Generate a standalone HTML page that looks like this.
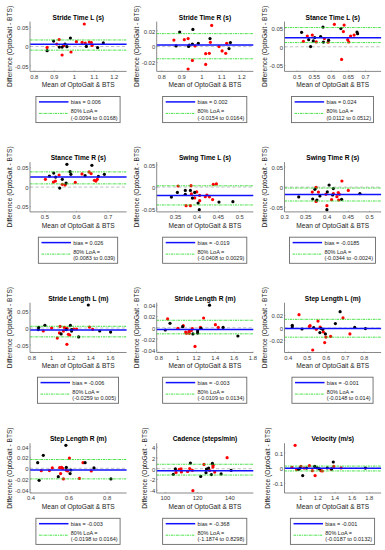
<!DOCTYPE html>
<html><head><meta charset="utf-8"><style>
html,body{margin:0;padding:0;background:#fff;width:385px;height:550px;overflow:hidden}
svg{display:block}
text{font-family:"Liberation Sans",sans-serif}
.t{font-size:5.9px;fill:#3a3a3a}
.l{font-size:6.6px;fill:#222}
.ti{font-size:6.6px;font-weight:bold;fill:#000}
.lt{font-size:5.5px;fill:#222}
.ax{fill:none;stroke:#7c7c7c;stroke-width:0.9}
.tk{stroke:#7c7c7c;stroke-width:0.6}
.z{stroke:#b0b0b0;stroke-width:0.8;stroke-dasharray:3.2 2.2}
.g{stroke:#22dd22;stroke-width:0.85;stroke-dasharray:2.6 0.8 1 0.8}
.b{stroke:#1010ff;stroke-width:1.5}
.dr{fill:#ff0000}
.dk{fill:#000}
.lg{fill:#fff;stroke:#6a6a6a;stroke-width:0.9}
</style></head><body>
<svg width="385" height="550" viewBox="0 0 385 550">
<line x1="30" y1="46.5" x2="126.6" y2="46.5" class="z"/>
<circle cx="47.1" cy="47.4" r="1.6" class="dr"/>
<circle cx="59.1" cy="39.6" r="1.6" class="dr"/>
<circle cx="56.8" cy="44.1" r="1.6" class="dr"/>
<circle cx="63.6" cy="45.7" r="1.6" class="dr"/>
<circle cx="62.1" cy="55" r="1.6" class="dr"/>
<circle cx="71" cy="52" r="1.6" class="dr"/>
<circle cx="76.4" cy="41.7" r="1.6" class="dr"/>
<circle cx="82.1" cy="42.4" r="1.6" class="dr"/>
<circle cx="84.3" cy="24" r="1.6" class="dr"/>
<circle cx="85.3" cy="43.1" r="1.6" class="dr"/>
<circle cx="89.3" cy="42.1" r="1.6" class="dr"/>
<circle cx="91.4" cy="42.6" r="1.6" class="dr"/>
<circle cx="92.1" cy="45.4" r="1.6" class="dr"/>
<circle cx="47.1" cy="50.7" r="1.6" class="dk"/>
<circle cx="53.6" cy="41.1" r="1.6" class="dk"/>
<circle cx="59.3" cy="47.1" r="1.6" class="dk"/>
<circle cx="62.1" cy="47.1" r="1.6" class="dk"/>
<circle cx="65" cy="44" r="1.6" class="dk"/>
<circle cx="66.9" cy="46.7" r="1.6" class="dk"/>
<circle cx="70.4" cy="38.1" r="1.6" class="dk"/>
<circle cx="86.4" cy="46.4" r="1.6" class="dk"/>
<circle cx="97.6" cy="47.6" r="1.6" class="dk"/>
<circle cx="103.3" cy="42.9" r="1.6" class="dk"/>
<line x1="30" y1="39.98" x2="126.6" y2="39.98" class="g"/>
<line x1="30" y1="50.15" x2="126.6" y2="50.15" class="g"/>
<line x1="30" y1="44.17" x2="126.6" y2="44.17" class="b"/>
<path d="M30 21.6V71.4H126.6" class="ax"/>
<line x1="30" y1="27.1" x2="31" y2="27.1" class="tk"/>
<text x="28.5" y="29.9" class="t" text-anchor="end">0.05</text>
<line x1="30" y1="46.5" x2="31" y2="46.5" class="tk"/>
<text x="28.5" y="49.3" class="t" text-anchor="end">0</text>
<line x1="30" y1="65.9" x2="31" y2="65.9" class="tk"/>
<text x="28.5" y="68.7" class="t" text-anchor="end">-0.05</text>
<line x1="34.3" y1="71.4" x2="34.3" y2="70.4" class="tk"/>
<text x="34.3" y="78.5" class="t" text-anchor="middle">0.8</text>
<line x1="54.3" y1="71.4" x2="54.3" y2="70.4" class="tk"/>
<text x="54.3" y="78.5" class="t" text-anchor="middle">0.9</text>
<line x1="74.3" y1="71.4" x2="74.3" y2="70.4" class="tk"/>
<text x="74.3" y="78.5" class="t" text-anchor="middle">1</text>
<line x1="94.3" y1="71.4" x2="94.3" y2="70.4" class="tk"/>
<text x="94.3" y="78.5" class="t" text-anchor="middle">1.1</text>
<line x1="114.3" y1="71.4" x2="114.3" y2="70.4" class="tk"/>
<text x="114.3" y="78.5" class="t" text-anchor="middle">1.2</text>
<text x="78.3" y="19.7" class="ti" text-anchor="middle">Stride Time L (s)</text>
<text x="78.3" y="87" class="l" text-anchor="middle">Mean of OptoGait &amp; BTS</text>
<text transform="translate(12.45 46.5) rotate(-90)" class="l" text-anchor="middle">Difference (OptoGait - BTS)</text>
<rect x="35.91" y="96.5" width="84.18" height="26.1" class="lg"/>
<line x1="39.01" y1="101.9" x2="68.51" y2="101.9" class="b"/>
<line x1="39.01" y1="113.4" x2="68.51" y2="113.4" class="g"/>
<text x="70.81" y="104.2" class="lt">bias = 0.006</text>
<text x="70.81" y="112.9" class="lt">80% LoA =</text>
<text x="70.81" y="119.5" class="lt">(-0.0094 to 0.0168)</text>
<line x1="156.7" y1="46.6" x2="253.3" y2="46.6" class="z"/>
<circle cx="173.9" cy="40.1" r="1.6" class="dr"/>
<circle cx="184.3" cy="39.7" r="1.6" class="dr"/>
<circle cx="188.1" cy="38.6" r="1.6" class="dr"/>
<circle cx="192.4" cy="60.4" r="1.6" class="dr"/>
<circle cx="188.1" cy="69" r="1.6" class="dr"/>
<circle cx="195" cy="45.9" r="1.6" class="dr"/>
<circle cx="205.7" cy="53.7" r="1.6" class="dr"/>
<circle cx="209.3" cy="53.3" r="1.6" class="dr"/>
<circle cx="205.7" cy="64.4" r="1.6" class="dr"/>
<circle cx="210.4" cy="42.3" r="1.6" class="dr"/>
<circle cx="211.7" cy="25.4" r="1.6" class="dr"/>
<circle cx="219" cy="46.6" r="1.6" class="dr"/>
<circle cx="222.1" cy="50.9" r="1.6" class="dr"/>
<circle cx="225.7" cy="53.3" r="1.6" class="dr"/>
<circle cx="226.7" cy="43.3" r="1.6" class="dr"/>
<circle cx="176.1" cy="45.9" r="1.6" class="dk"/>
<circle cx="179.7" cy="32.1" r="1.6" class="dk"/>
<circle cx="188.6" cy="46.4" r="1.6" class="dk"/>
<circle cx="189.3" cy="45" r="1.6" class="dk"/>
<circle cx="192.4" cy="44" r="1.6" class="dk"/>
<circle cx="192.9" cy="29.4" r="1.6" class="dk"/>
<circle cx="198.3" cy="43.3" r="1.6" class="dk"/>
<circle cx="210" cy="38.6" r="1.6" class="dk"/>
<circle cx="230.4" cy="42.6" r="1.6" class="dk"/>
<circle cx="229" cy="48.6" r="1.6" class="dk"/>
<line x1="156.7" y1="33.64" x2="253.3" y2="33.64" class="g"/>
<line x1="156.7" y1="58.77" x2="253.3" y2="58.77" class="g"/>
<line x1="156.7" y1="45.02" x2="253.3" y2="45.02" class="b"/>
<path d="M156.7 21.6V71.4H253.3" class="ax"/>
<line x1="156.7" y1="30.8" x2="157.7" y2="30.8" class="tk"/>
<text x="155.2" y="33.6" class="t" text-anchor="end">0.02</text>
<line x1="156.7" y1="46.6" x2="157.7" y2="46.6" class="tk"/>
<text x="155.2" y="49.4" class="t" text-anchor="end">0</text>
<line x1="156.7" y1="62.4" x2="157.7" y2="62.4" class="tk"/>
<text x="155.2" y="65.2" class="t" text-anchor="end">-0.02</text>
<line x1="161.8" y1="71.4" x2="161.8" y2="70.4" class="tk"/>
<text x="161.8" y="78.5" class="t" text-anchor="middle">0.8</text>
<line x1="181.8" y1="71.4" x2="181.8" y2="70.4" class="tk"/>
<text x="181.8" y="78.5" class="t" text-anchor="middle">0.9</text>
<line x1="201.8" y1="71.4" x2="201.8" y2="70.4" class="tk"/>
<text x="201.8" y="78.5" class="t" text-anchor="middle">1</text>
<line x1="221.8" y1="71.4" x2="221.8" y2="70.4" class="tk"/>
<text x="221.8" y="78.5" class="t" text-anchor="middle">1.1</text>
<line x1="241.8" y1="71.4" x2="241.8" y2="70.4" class="tk"/>
<text x="241.8" y="78.5" class="t" text-anchor="middle">1.2</text>
<text x="205" y="19.7" class="ti" text-anchor="middle">Stride Time R (s)</text>
<text x="205" y="87" class="l" text-anchor="middle">Mean of OptoGait &amp; BTS</text>
<text transform="translate(139.15 46.5) rotate(-90)" class="l" text-anchor="middle">Difference (OptoGait - BTS)</text>
<rect x="162.61" y="96.5" width="84.18" height="26.1" class="lg"/>
<line x1="165.71" y1="101.9" x2="195.21" y2="101.9" class="b"/>
<line x1="165.71" y1="113.4" x2="195.21" y2="113.4" class="g"/>
<text x="197.51" y="104.2" class="lt">bias = 0.002</text>
<text x="197.51" y="112.9" class="lt">80% LoA =</text>
<text x="197.51" y="119.5" class="lt">(-0.0154 to 0.0164)</text>
<line x1="284.5" y1="46.8" x2="381.1" y2="46.8" class="z"/>
<circle cx="303.4" cy="41.4" r="1.6" class="dr"/>
<circle cx="307.3" cy="36.1" r="1.6" class="dr"/>
<circle cx="312.3" cy="35.1" r="1.6" class="dr"/>
<circle cx="316.3" cy="41.9" r="1.6" class="dr"/>
<circle cx="324.4" cy="38.6" r="1.6" class="dr"/>
<circle cx="328.1" cy="42.2" r="1.6" class="dr"/>
<circle cx="334.4" cy="24.3" r="1.6" class="dr"/>
<circle cx="344.1" cy="25.1" r="1.6" class="dr"/>
<circle cx="343.4" cy="31.6" r="1.6" class="dr"/>
<circle cx="341.6" cy="59.4" r="1.6" class="dr"/>
<circle cx="347.7" cy="39.7" r="1.6" class="dr"/>
<circle cx="348.7" cy="41.9" r="1.6" class="dr"/>
<circle cx="350.6" cy="36.1" r="1.6" class="dr"/>
<circle cx="354.1" cy="35.1" r="1.6" class="dr"/>
<circle cx="301.6" cy="32.3" r="1.6" class="dk"/>
<circle cx="308.7" cy="39.7" r="1.6" class="dk"/>
<circle cx="310.6" cy="46.6" r="1.6" class="dk"/>
<circle cx="313.3" cy="40.9" r="1.6" class="dk"/>
<circle cx="314.7" cy="37.6" r="1.6" class="dk"/>
<circle cx="320.6" cy="36.5" r="1.6" class="dk"/>
<circle cx="323" cy="27.1" r="1.6" class="dk"/>
<circle cx="323.4" cy="42.1" r="1.6" class="dk"/>
<circle cx="328.6" cy="40.2" r="1.6" class="dk"/>
<circle cx="340.9" cy="28.6" r="1.6" class="dk"/>
<circle cx="357" cy="32.1" r="1.6" class="dk"/>
<circle cx="357.6" cy="33.7" r="1.6" class="dk"/>
<line x1="284.5" y1="27.55" x2="381.1" y2="27.55" class="g"/>
<line x1="284.5" y1="42.59" x2="381.1" y2="42.59" class="g"/>
<line x1="284.5" y1="37.78" x2="381.1" y2="37.78" class="b"/>
<path d="M284.5 21.6V71.4H381.1" class="ax"/>
<line x1="284.5" y1="28" x2="285.5" y2="28" class="tk"/>
<text x="283" y="30.8" class="t" text-anchor="end">0.05</text>
<line x1="284.5" y1="46.8" x2="285.5" y2="46.8" class="tk"/>
<text x="283" y="49.6" class="t" text-anchor="end">0</text>
<line x1="284.5" y1="65.6" x2="285.5" y2="65.6" class="tk"/>
<text x="283" y="68.4" class="t" text-anchor="end">-0.05</text>
<line x1="297.1" y1="71.4" x2="297.1" y2="70.4" class="tk"/>
<text x="297.1" y="78.5" class="t" text-anchor="middle">0.5</text>
<line x1="314.2" y1="71.4" x2="314.2" y2="70.4" class="tk"/>
<text x="314.2" y="78.5" class="t" text-anchor="middle">0.55</text>
<line x1="331.3" y1="71.4" x2="331.3" y2="70.4" class="tk"/>
<text x="331.3" y="78.5" class="t" text-anchor="middle">0.6</text>
<line x1="348.4" y1="71.4" x2="348.4" y2="70.4" class="tk"/>
<text x="348.4" y="78.5" class="t" text-anchor="middle">0.65</text>
<line x1="365.5" y1="71.4" x2="365.5" y2="70.4" class="tk"/>
<text x="365.5" y="78.5" class="t" text-anchor="middle">0.7</text>
<text x="332.8" y="19.7" class="ti" text-anchor="middle">Stance Time L (s)</text>
<text x="332.8" y="87" class="l" text-anchor="middle">Mean of OptoGait &amp; BTS</text>
<text transform="translate(266.95 46.5) rotate(-90)" class="l" text-anchor="middle">Difference (OptoGait - BTS)</text>
<rect x="291.53" y="96.5" width="81.94" height="26.1" class="lg"/>
<line x1="294.63" y1="101.9" x2="324.13" y2="101.9" class="b"/>
<line x1="294.63" y1="113.4" x2="324.13" y2="113.4" class="g"/>
<text x="326.43" y="104.2" class="lt">bias = 0.024</text>
<text x="326.43" y="112.9" class="lt">80% LoA =</text>
<text x="326.43" y="119.5" class="lt">(0.0112 to 0.0512)</text>
<line x1="30" y1="187.1" x2="126.6" y2="187.1" class="z"/>
<circle cx="45.4" cy="179.3" r="1.6" class="dr"/>
<circle cx="53.4" cy="182.1" r="1.6" class="dr"/>
<circle cx="55.4" cy="181.1" r="1.6" class="dr"/>
<circle cx="59.1" cy="175" r="1.6" class="dr"/>
<circle cx="62.3" cy="184.3" r="1.6" class="dr"/>
<circle cx="65.1" cy="185" r="1.6" class="dr"/>
<circle cx="75.3" cy="182.4" r="1.6" class="dr"/>
<circle cx="82" cy="173.9" r="1.6" class="dr"/>
<circle cx="89.1" cy="171.9" r="1.6" class="dr"/>
<circle cx="91.1" cy="173.6" r="1.6" class="dr"/>
<circle cx="94.4" cy="180.3" r="1.6" class="dr"/>
<circle cx="95.9" cy="181.1" r="1.6" class="dr"/>
<circle cx="97.3" cy="179.3" r="1.6" class="dr"/>
<circle cx="49.4" cy="176.1" r="1.6" class="dk"/>
<circle cx="53.7" cy="173.1" r="1.6" class="dk"/>
<circle cx="55.6" cy="177.1" r="1.6" class="dk"/>
<circle cx="59.7" cy="188.1" r="1.6" class="dk"/>
<circle cx="62.3" cy="179.3" r="1.6" class="dk"/>
<circle cx="66.1" cy="183.1" r="1.6" class="dk"/>
<circle cx="66.9" cy="164.3" r="1.6" class="dk"/>
<circle cx="70.1" cy="171.7" r="1.6" class="dk"/>
<circle cx="70.9" cy="174.3" r="1.6" class="dk"/>
<circle cx="85.1" cy="175.7" r="1.6" class="dk"/>
<circle cx="91.9" cy="165.3" r="1.6" class="dk"/>
<circle cx="98.4" cy="176.4" r="1.6" class="dk"/>
<circle cx="104.4" cy="174.3" r="1.6" class="dk"/>
<line x1="30" y1="171.89" x2="126.6" y2="171.89" class="g"/>
<line x1="30" y1="183.86" x2="126.6" y2="183.86" class="g"/>
<line x1="30" y1="176.96" x2="126.6" y2="176.96" class="b"/>
<path d="M30 162.1V211.9H126.6" class="ax"/>
<line x1="30" y1="167.6" x2="31" y2="167.6" class="tk"/>
<text x="28.5" y="170.4" class="t" text-anchor="end">0.05</text>
<line x1="30" y1="187.1" x2="31" y2="187.1" class="tk"/>
<text x="28.5" y="189.9" class="t" text-anchor="end">0</text>
<line x1="30" y1="206.6" x2="31" y2="206.6" class="tk"/>
<text x="28.5" y="209.4" class="t" text-anchor="end">-0.05</text>
<line x1="44.9" y1="211.9" x2="44.9" y2="210.9" class="tk"/>
<text x="44.9" y="219" class="t" text-anchor="middle">0.5</text>
<line x1="76.55" y1="211.9" x2="76.55" y2="210.9" class="tk"/>
<text x="76.55" y="219" class="t" text-anchor="middle">0.6</text>
<line x1="108.2" y1="211.9" x2="108.2" y2="210.9" class="tk"/>
<text x="108.2" y="219" class="t" text-anchor="middle">0.7</text>
<text x="78.3" y="160.2" class="ti" text-anchor="middle">Stance Time R (s)</text>
<text x="78.3" y="227.5" class="l" text-anchor="middle">Mean of OptoGait &amp; BTS</text>
<text transform="translate(12.45 187) rotate(-90)" class="l" text-anchor="middle">Difference (OptoGait - BTS)</text>
<rect x="38.36" y="237.2" width="79.29" height="26.1" class="lg"/>
<line x1="41.46" y1="242.6" x2="70.96" y2="242.6" class="b"/>
<line x1="41.46" y1="254.1" x2="70.96" y2="254.1" class="g"/>
<text x="73.26" y="244.9" class="lt">bias = 0.026</text>
<text x="73.26" y="253.6" class="lt">80% LoA =</text>
<text x="73.26" y="260.2" class="lt">(0.0083 to 0.039)</text>
<line x1="156.7" y1="187.05" x2="253.3" y2="187.05" class="z"/>
<circle cx="178.1" cy="186" r="1.6" class="dr"/>
<circle cx="186.1" cy="205.7" r="1.6" class="dr"/>
<circle cx="191" cy="185.7" r="1.6" class="dr"/>
<circle cx="191.4" cy="193.9" r="1.6" class="dr"/>
<circle cx="190.4" cy="205.7" r="1.6" class="dr"/>
<circle cx="194.7" cy="197.9" r="1.6" class="dr"/>
<circle cx="196.7" cy="191.9" r="1.6" class="dr"/>
<circle cx="199.6" cy="195.4" r="1.6" class="dr"/>
<circle cx="199.7" cy="200.7" r="1.6" class="dr"/>
<circle cx="205.3" cy="196.7" r="1.6" class="dr"/>
<circle cx="206.9" cy="195" r="1.6" class="dr"/>
<circle cx="209.4" cy="196.8" r="1.6" class="dr"/>
<circle cx="212.6" cy="199.6" r="1.6" class="dr"/>
<circle cx="213.3" cy="184.3" r="1.6" class="dr"/>
<circle cx="216.4" cy="183.9" r="1.6" class="dr"/>
<circle cx="171.4" cy="197.1" r="1.6" class="dk"/>
<circle cx="177.4" cy="192.4" r="1.6" class="dk"/>
<circle cx="185.3" cy="190.4" r="1.6" class="dk"/>
<circle cx="185.3" cy="194.3" r="1.6" class="dk"/>
<circle cx="190.4" cy="190.4" r="1.6" class="dk"/>
<circle cx="192.4" cy="198.1" r="1.6" class="dk"/>
<circle cx="194.7" cy="192.4" r="1.6" class="dk"/>
<circle cx="198.1" cy="203.1" r="1.6" class="dk"/>
<circle cx="199.3" cy="209.7" r="1.6" class="dk"/>
<circle cx="219" cy="202.1" r="1.6" class="dk"/>
<circle cx="232.9" cy="201.7" r="1.6" class="dk"/>
<line x1="156.7" y1="185.78" x2="253.3" y2="185.78" class="g"/>
<line x1="156.7" y1="204.96" x2="253.3" y2="204.96" class="g"/>
<line x1="156.7" y1="195.39" x2="253.3" y2="195.39" class="b"/>
<path d="M156.7 162.1V211.9H253.3" class="ax"/>
<line x1="156.7" y1="165.1" x2="157.7" y2="165.1" class="tk"/>
<text x="155.2" y="167.9" class="t" text-anchor="end">0.05</text>
<line x1="156.7" y1="187.05" x2="157.7" y2="187.05" class="tk"/>
<text x="155.2" y="189.85" class="t" text-anchor="end">0</text>
<line x1="156.7" y1="209" x2="157.7" y2="209" class="tk"/>
<text x="155.2" y="211.8" class="t" text-anchor="end">-0.05</text>
<line x1="175.6" y1="211.9" x2="175.6" y2="210.9" class="tk"/>
<text x="175.6" y="219" class="t" text-anchor="middle">0.35</text>
<line x1="197" y1="211.9" x2="197" y2="210.9" class="tk"/>
<text x="197" y="219" class="t" text-anchor="middle">0.4</text>
<line x1="218.4" y1="211.9" x2="218.4" y2="210.9" class="tk"/>
<text x="218.4" y="219" class="t" text-anchor="middle">0.45</text>
<line x1="239.8" y1="211.9" x2="239.8" y2="210.9" class="tk"/>
<text x="239.8" y="219" class="t" text-anchor="middle">0.5</text>
<text x="205" y="160.2" class="ti" text-anchor="middle">Swing Time L (s)</text>
<text x="205" y="227.5" class="l" text-anchor="middle">Mean of OptoGait &amp; BTS</text>
<text transform="translate(139.15 187) rotate(-90)" class="l" text-anchor="middle">Difference (OptoGait - BTS)</text>
<rect x="162.61" y="237.2" width="84.18" height="26.1" class="lg"/>
<line x1="165.71" y1="242.6" x2="195.21" y2="242.6" class="b"/>
<line x1="165.71" y1="254.1" x2="195.21" y2="254.1" class="g"/>
<text x="197.51" y="244.9" class="lt">bias = -0.019</text>
<text x="197.51" y="253.6" class="lt">80% LoA =</text>
<text x="197.51" y="260.2" class="lt">(-0.0408 to 0.0029)</text>
<line x1="284.5" y1="187.1" x2="381.1" y2="187.1" class="z"/>
<circle cx="312.3" cy="192.1" r="1.6" class="dr"/>
<circle cx="316.1" cy="187.4" r="1.6" class="dr"/>
<circle cx="318.4" cy="192.1" r="1.6" class="dr"/>
<circle cx="316.1" cy="201.4" r="1.6" class="dr"/>
<circle cx="325.9" cy="194.3" r="1.6" class="dr"/>
<circle cx="326.9" cy="205.7" r="1.6" class="dr"/>
<circle cx="333.4" cy="193.5" r="1.6" class="dr"/>
<circle cx="331.6" cy="199.7" r="1.6" class="dr"/>
<circle cx="336.9" cy="196.7" r="1.6" class="dr"/>
<circle cx="338.3" cy="192.6" r="1.6" class="dr"/>
<circle cx="339.4" cy="194.3" r="1.6" class="dr"/>
<circle cx="338.7" cy="200" r="1.6" class="dr"/>
<circle cx="341.9" cy="181" r="1.6" class="dr"/>
<circle cx="348.3" cy="190.4" r="1.6" class="dr"/>
<circle cx="298.7" cy="196.9" r="1.6" class="dk"/>
<circle cx="312.7" cy="199" r="1.6" class="dk"/>
<circle cx="314.9" cy="189.3" r="1.6" class="dk"/>
<circle cx="319.9" cy="196" r="1.6" class="dk"/>
<circle cx="316.9" cy="200" r="1.6" class="dk"/>
<circle cx="327.3" cy="191.9" r="1.6" class="dk"/>
<circle cx="329.1" cy="185" r="1.6" class="dk"/>
<circle cx="326.9" cy="209.7" r="1.6" class="dk"/>
<circle cx="333.3" cy="188.6" r="1.6" class="dk"/>
<circle cx="332.6" cy="195" r="1.6" class="dk"/>
<circle cx="341.6" cy="199.3" r="1.6" class="dk"/>
<circle cx="359.9" cy="193.6" r="1.6" class="dk"/>
<line x1="284.5" y1="188.07" x2="381.1" y2="188.07" class="g"/>
<line x1="284.5" y1="201" x2="381.1" y2="201" class="g"/>
<line x1="284.5" y1="194.57" x2="381.1" y2="194.57" class="b"/>
<path d="M284.5 162.1V211.9H381.1" class="ax"/>
<line x1="284.5" y1="166.9" x2="285.5" y2="166.9" class="tk"/>
<text x="283" y="169.7" class="t" text-anchor="end">0.05</text>
<line x1="284.5" y1="187.1" x2="285.5" y2="187.1" class="tk"/>
<text x="283" y="189.9" class="t" text-anchor="end">0</text>
<line x1="284.5" y1="207.3" x2="285.5" y2="207.3" class="tk"/>
<text x="283" y="210.1" class="t" text-anchor="end">-0.05</text>
<line x1="284.6" y1="211.9" x2="284.6" y2="210.9" class="tk"/>
<text x="284.6" y="219" class="t" text-anchor="middle">0.3</text>
<line x1="305.85" y1="211.9" x2="305.85" y2="210.9" class="tk"/>
<text x="305.85" y="219" class="t" text-anchor="middle">0.35</text>
<line x1="327.1" y1="211.9" x2="327.1" y2="210.9" class="tk"/>
<text x="327.1" y="219" class="t" text-anchor="middle">0.4</text>
<line x1="348.35" y1="211.9" x2="348.35" y2="210.9" class="tk"/>
<text x="348.35" y="219" class="t" text-anchor="middle">0.45</text>
<line x1="369.6" y1="211.9" x2="369.6" y2="210.9" class="tk"/>
<text x="369.6" y="219" class="t" text-anchor="middle">0.5</text>
<text x="332.8" y="160.2" class="ti" text-anchor="middle">Swing Time R (s)</text>
<text x="332.8" y="227.5" class="l" text-anchor="middle">Mean of OptoGait &amp; BTS</text>
<text transform="translate(266.95 187) rotate(-90)" class="l" text-anchor="middle">Difference (OptoGait - BTS)</text>
<rect x="289.5" y="237.2" width="86.01" height="26.1" class="lg"/>
<line x1="292.6" y1="242.6" x2="322.1" y2="242.6" class="b"/>
<line x1="292.6" y1="254.1" x2="322.1" y2="254.1" class="g"/>
<text x="324.4" y="244.9" class="lt">bias = -0.0185</text>
<text x="324.4" y="253.6" class="lt">80% LoA =</text>
<text x="324.4" y="260.2" class="lt">(-0.0344 to -0.0024)</text>
<line x1="30" y1="328" x2="126.6" y2="328" class="z"/>
<circle cx="43.3" cy="331" r="1.6" class="dr"/>
<circle cx="51.6" cy="328.1" r="1.6" class="dr"/>
<circle cx="60.1" cy="326.4" r="1.6" class="dr"/>
<circle cx="59.4" cy="332.9" r="1.6" class="dr"/>
<circle cx="57.3" cy="338.1" r="1.6" class="dr"/>
<circle cx="64.4" cy="327.4" r="1.6" class="dr"/>
<circle cx="63.4" cy="331.1" r="1.6" class="dr"/>
<circle cx="66.9" cy="328.3" r="1.6" class="dr"/>
<circle cx="68.4" cy="334.3" r="1.6" class="dr"/>
<circle cx="69.7" cy="335" r="1.6" class="dr"/>
<circle cx="66.9" cy="344.3" r="1.6" class="dr"/>
<circle cx="73.7" cy="329" r="1.6" class="dr"/>
<circle cx="76.6" cy="329" r="1.6" class="dr"/>
<circle cx="89.4" cy="327.1" r="1.6" class="dr"/>
<circle cx="92.7" cy="329.3" r="1.6" class="dr"/>
<circle cx="38.7" cy="327.4" r="1.6" class="dk"/>
<circle cx="38.3" cy="329.6" r="1.6" class="dk"/>
<circle cx="44.9" cy="325.3" r="1.6" class="dk"/>
<circle cx="61.1" cy="333.9" r="1.6" class="dk"/>
<circle cx="66.3" cy="329.6" r="1.6" class="dk"/>
<circle cx="70.4" cy="325.4" r="1.6" class="dk"/>
<circle cx="71.6" cy="329.6" r="1.6" class="dk"/>
<circle cx="71.6" cy="331.1" r="1.6" class="dk"/>
<circle cx="78.6" cy="336.9" r="1.6" class="dk"/>
<circle cx="88.3" cy="305" r="1.6" class="dk"/>
<circle cx="99.7" cy="331" r="1.6" class="dk"/>
<circle cx="110.6" cy="332.1" r="1.6" class="dk"/>
<line x1="30" y1="326.29" x2="126.6" y2="326.29" class="g"/>
<line x1="30" y1="336.86" x2="126.6" y2="336.86" class="g"/>
<line x1="30" y1="330.05" x2="126.6" y2="330.05" class="b"/>
<path d="M30 302.7V352.5H126.6" class="ax"/>
<line x1="30" y1="310.9" x2="31" y2="310.9" class="tk"/>
<text x="28.5" y="313.7" class="t" text-anchor="end">0.05</text>
<line x1="30" y1="328" x2="31" y2="328" class="tk"/>
<text x="28.5" y="330.8" class="t" text-anchor="end">0</text>
<line x1="30" y1="345.1" x2="31" y2="345.1" class="tk"/>
<text x="28.5" y="347.9" class="t" text-anchor="end">-0.05</text>
<line x1="31.9" y1="352.5" x2="31.9" y2="351.5" class="tk"/>
<text x="31.9" y="359.6" class="t" text-anchor="middle">0.8</text>
<line x1="51.52" y1="352.5" x2="51.52" y2="351.5" class="tk"/>
<text x="51.52" y="359.6" class="t" text-anchor="middle">1</text>
<line x1="71.15" y1="352.5" x2="71.15" y2="351.5" class="tk"/>
<text x="71.15" y="359.6" class="t" text-anchor="middle">1.2</text>
<line x1="90.77" y1="352.5" x2="90.77" y2="351.5" class="tk"/>
<text x="90.77" y="359.6" class="t" text-anchor="middle">1.4</text>
<line x1="110.4" y1="352.5" x2="110.4" y2="351.5" class="tk"/>
<text x="110.4" y="359.6" class="t" text-anchor="middle">1.6</text>
<text x="78.3" y="300.8" class="ti" text-anchor="middle">Stride Length L (m)</text>
<text x="78.3" y="368.1" class="l" text-anchor="middle">Mean of OptoGait &amp; BTS</text>
<text transform="translate(12.45 327.6) rotate(-90)" class="l" text-anchor="middle">Difference (OptoGait - BTS)</text>
<rect x="37.44" y="377.2" width="81.12" height="26.1" class="lg"/>
<line x1="40.54" y1="382.6" x2="70.04" y2="382.6" class="b"/>
<line x1="40.54" y1="394.1" x2="70.04" y2="394.1" class="g"/>
<text x="72.34" y="384.9" class="lt">bias = -0.006</text>
<text x="72.34" y="393.6" class="lt">80% LoA =</text>
<text x="72.34" y="400.2" class="lt">(-0.0259 to 0.005)</text>
<line x1="156.7" y1="327.75" x2="253.3" y2="327.75" class="z"/>
<circle cx="167.6" cy="318.9" r="1.6" class="dr"/>
<circle cx="177.9" cy="328.3" r="1.6" class="dr"/>
<circle cx="183.3" cy="325.7" r="1.6" class="dr"/>
<circle cx="185.7" cy="332.1" r="1.6" class="dr"/>
<circle cx="186.4" cy="333.3" r="1.6" class="dr"/>
<circle cx="189" cy="331.4" r="1.6" class="dr"/>
<circle cx="189.3" cy="333.3" r="1.6" class="dr"/>
<circle cx="191.4" cy="330.4" r="1.6" class="dr"/>
<circle cx="192.4" cy="328.6" r="1.6" class="dr"/>
<circle cx="195" cy="346.4" r="1.6" class="dr"/>
<circle cx="200.4" cy="327.4" r="1.6" class="dr"/>
<circle cx="203.6" cy="318" r="1.6" class="dr"/>
<circle cx="215.4" cy="324.7" r="1.6" class="dr"/>
<circle cx="218.3" cy="327.4" r="1.6" class="dr"/>
<circle cx="165.3" cy="330" r="1.6" class="dk"/>
<circle cx="170" cy="323.3" r="1.6" class="dk"/>
<circle cx="182.6" cy="326.7" r="1.6" class="dk"/>
<circle cx="192.9" cy="333.9" r="1.6" class="dk"/>
<circle cx="197.6" cy="331.1" r="1.6" class="dk"/>
<circle cx="197.6" cy="333.1" r="1.6" class="dk"/>
<circle cx="201" cy="328.3" r="1.6" class="dk"/>
<circle cx="209.5" cy="305.2" r="1.6" class="dk"/>
<circle cx="223.1" cy="327.4" r="1.6" class="dk"/>
<circle cx="237.9" cy="336" r="1.6" class="dk"/>
<line x1="156.7" y1="320.26" x2="253.3" y2="320.26" class="g"/>
<line x1="156.7" y1="333.84" x2="253.3" y2="333.84" class="g"/>
<line x1="156.7" y1="329.43" x2="253.3" y2="329.43" class="b"/>
<path d="M156.7 302.7V352.5H253.3" class="ax"/>
<line x1="156.7" y1="305.39" x2="157.7" y2="305.39" class="tk"/>
<text x="155.2" y="308.19" class="t" text-anchor="end">0.04</text>
<line x1="156.7" y1="316.57" x2="157.7" y2="316.57" class="tk"/>
<text x="155.2" y="319.37" class="t" text-anchor="end">0.02</text>
<line x1="156.7" y1="327.75" x2="157.7" y2="327.75" class="tk"/>
<text x="155.2" y="330.55" class="t" text-anchor="end">0</text>
<line x1="156.7" y1="338.93" x2="157.7" y2="338.93" class="tk"/>
<text x="155.2" y="341.73" class="t" text-anchor="end">-0.02</text>
<line x1="156.7" y1="350.11" x2="157.7" y2="350.11" class="tk"/>
<text x="155.2" y="352.91" class="t" text-anchor="end">-0.04</text>
<line x1="158.9" y1="352.5" x2="158.9" y2="351.5" class="tk"/>
<text x="158.9" y="359.6" class="t" text-anchor="middle">0.8</text>
<line x1="177.7" y1="352.5" x2="177.7" y2="351.5" class="tk"/>
<text x="177.7" y="359.6" class="t" text-anchor="middle">1</text>
<line x1="196.5" y1="352.5" x2="196.5" y2="351.5" class="tk"/>
<text x="196.5" y="359.6" class="t" text-anchor="middle">1.2</text>
<line x1="215.3" y1="352.5" x2="215.3" y2="351.5" class="tk"/>
<text x="215.3" y="359.6" class="t" text-anchor="middle">1.4</text>
<line x1="234.1" y1="352.5" x2="234.1" y2="351.5" class="tk"/>
<text x="234.1" y="359.6" class="t" text-anchor="middle">1.6</text>
<line x1="252.9" y1="352.5" x2="252.9" y2="351.5" class="tk"/>
<text x="252.9" y="359.6" class="t" text-anchor="middle">1.8</text>
<text x="205" y="300.8" class="ti" text-anchor="middle">Stride Length R (m)</text>
<text x="205" y="368.1" class="l" text-anchor="middle">Mean of OptoGait &amp; BTS</text>
<text transform="translate(139.15 327.6) rotate(-90)" class="l" text-anchor="middle">Difference (OptoGait - BTS)</text>
<rect x="162.61" y="377.2" width="84.18" height="26.1" class="lg"/>
<line x1="165.71" y1="382.6" x2="195.21" y2="382.6" class="b"/>
<line x1="165.71" y1="394.1" x2="195.21" y2="394.1" class="g"/>
<text x="197.51" y="384.9" class="lt">bias = -0.003</text>
<text x="197.51" y="393.6" class="lt">80% LoA =</text>
<text x="197.51" y="400.2" class="lt">(-0.0109 to 0.0134)</text>
<line x1="284.5" y1="328" x2="381.1" y2="328" class="z"/>
<circle cx="299" cy="314.7" r="1.6" class="dr"/>
<circle cx="309.4" cy="326.4" r="1.6" class="dr"/>
<circle cx="310.1" cy="325.7" r="1.6" class="dr"/>
<circle cx="312.7" cy="350" r="1.6" class="dr"/>
<circle cx="316.3" cy="329.3" r="1.6" class="dr"/>
<circle cx="318" cy="321.1" r="1.6" class="dr"/>
<circle cx="320.1" cy="327.1" r="1.6" class="dr"/>
<circle cx="323.4" cy="331.9" r="1.6" class="dr"/>
<circle cx="325.9" cy="337.1" r="1.6" class="dr"/>
<circle cx="324.7" cy="342.6" r="1.6" class="dr"/>
<circle cx="330.6" cy="336.4" r="1.6" class="dr"/>
<circle cx="343" cy="317.9" r="1.6" class="dr"/>
<circle cx="349.9" cy="333.9" r="1.6" class="dr"/>
<circle cx="292.3" cy="325.3" r="1.6" class="dk"/>
<circle cx="292.3" cy="327.1" r="1.6" class="dk"/>
<circle cx="302" cy="329" r="1.6" class="dk"/>
<circle cx="313.7" cy="327.6" r="1.6" class="dk"/>
<circle cx="320.9" cy="328.3" r="1.6" class="dk"/>
<circle cx="319.9" cy="332.6" r="1.6" class="dk"/>
<circle cx="322.7" cy="329.3" r="1.6" class="dk"/>
<circle cx="325.4" cy="333.9" r="1.6" class="dk"/>
<circle cx="335.4" cy="323.6" r="1.6" class="dk"/>
<circle cx="340.1" cy="311.7" r="1.6" class="dk"/>
<circle cx="354.7" cy="327.4" r="1.6" class="dk"/>
<circle cx="365.4" cy="328.6" r="1.6" class="dk"/>
<line x1="284.5" y1="319.32" x2="381.1" y2="319.32" class="g"/>
<line x1="284.5" y1="337.18" x2="381.1" y2="337.18" class="g"/>
<line x1="284.5" y1="328.62" x2="381.1" y2="328.62" class="b"/>
<path d="M284.5 302.7V352.5H381.1" class="ax"/>
<line x1="284.5" y1="315.6" x2="285.5" y2="315.6" class="tk"/>
<text x="283" y="318.4" class="t" text-anchor="end">0.02</text>
<line x1="284.5" y1="328" x2="285.5" y2="328" class="tk"/>
<text x="283" y="330.8" class="t" text-anchor="end">0</text>
<line x1="284.5" y1="340.4" x2="285.5" y2="340.4" class="tk"/>
<text x="283" y="343.2" class="t" text-anchor="end">-0.02</text>
<line x1="288.3" y1="352.5" x2="288.3" y2="351.5" class="tk"/>
<text x="288.3" y="359.6" class="t" text-anchor="middle">0.4</text>
<line x1="307.3" y1="352.5" x2="307.3" y2="351.5" class="tk"/>
<text x="307.3" y="359.6" class="t" text-anchor="middle">0.5</text>
<line x1="326.3" y1="352.5" x2="326.3" y2="351.5" class="tk"/>
<text x="326.3" y="359.6" class="t" text-anchor="middle">0.6</text>
<line x1="345.3" y1="352.5" x2="345.3" y2="351.5" class="tk"/>
<text x="345.3" y="359.6" class="t" text-anchor="middle">0.7</text>
<line x1="364.3" y1="352.5" x2="364.3" y2="351.5" class="tk"/>
<text x="364.3" y="359.6" class="t" text-anchor="middle">0.8</text>
<text x="332.8" y="300.8" class="ti" text-anchor="middle">Step Length L (m)</text>
<text x="332.8" y="368.1" class="l" text-anchor="middle">Mean of OptoGait &amp; BTS</text>
<text transform="translate(266.95 327.6) rotate(-90)" class="l" text-anchor="middle">Difference (OptoGait - BTS)</text>
<rect x="291.94" y="377.2" width="81.12" height="26.1" class="lg"/>
<line x1="295.04" y1="382.6" x2="324.54" y2="382.6" class="b"/>
<line x1="295.04" y1="394.1" x2="324.54" y2="394.1" class="g"/>
<text x="326.84" y="384.9" class="lt">bias = -0.001</text>
<text x="326.84" y="393.6" class="lt">80% LoA =</text>
<text x="326.84" y="400.2" class="lt">(-0.0148 to 0.014)</text>
<line x1="30" y1="468.3" x2="126.6" y2="468.3" class="z"/>
<circle cx="41.3" cy="470.7" r="1.6" class="dr"/>
<circle cx="49.4" cy="470.6" r="1.6" class="dr"/>
<circle cx="52.3" cy="467.9" r="1.6" class="dr"/>
<circle cx="59.7" cy="467.7" r="1.6" class="dr"/>
<circle cx="61.6" cy="467.4" r="1.6" class="dr"/>
<circle cx="62.7" cy="468.4" r="1.6" class="dr"/>
<circle cx="60.6" cy="473.6" r="1.6" class="dr"/>
<circle cx="63.4" cy="478.9" r="1.6" class="dr"/>
<circle cx="66.3" cy="470.3" r="1.6" class="dr"/>
<circle cx="67.7" cy="471" r="1.6" class="dr"/>
<circle cx="69.4" cy="458.1" r="1.6" class="dr"/>
<circle cx="79.4" cy="478.4" r="1.6" class="dr"/>
<circle cx="83" cy="462.7" r="1.6" class="dr"/>
<circle cx="91.3" cy="471" r="1.6" class="dr"/>
<circle cx="37.7" cy="462.7" r="1.6" class="dk"/>
<circle cx="39.1" cy="480.3" r="1.6" class="dk"/>
<circle cx="43.3" cy="455.3" r="1.6" class="dk"/>
<circle cx="58.3" cy="476.7" r="1.6" class="dk"/>
<circle cx="65.9" cy="445.3" r="1.6" class="dk"/>
<circle cx="66.3" cy="467.4" r="1.6" class="dk"/>
<circle cx="70.1" cy="473.6" r="1.6" class="dk"/>
<circle cx="70.9" cy="470" r="1.6" class="dk"/>
<circle cx="85.1" cy="462.7" r="1.6" class="dk"/>
<circle cx="94" cy="467.9" r="1.6" class="dk"/>
<circle cx="110.9" cy="478.9" r="1.6" class="dk"/>
<line x1="30" y1="459.53" x2="126.6" y2="459.53" class="g"/>
<line x1="30" y1="478.89" x2="126.6" y2="478.89" class="g"/>
<line x1="30" y1="469.91" x2="126.6" y2="469.91" class="b"/>
<path d="M30 443.2V493H126.6" class="ax"/>
<line x1="30" y1="446.9" x2="31" y2="446.9" class="tk"/>
<text x="28.5" y="449.7" class="t" text-anchor="end">0.04</text>
<line x1="30" y1="457.6" x2="31" y2="457.6" class="tk"/>
<text x="28.5" y="460.4" class="t" text-anchor="end">0.02</text>
<line x1="30" y1="468.3" x2="31" y2="468.3" class="tk"/>
<text x="28.5" y="471.1" class="t" text-anchor="end">0</text>
<line x1="30" y1="479" x2="31" y2="479" class="tk"/>
<text x="28.5" y="481.8" class="t" text-anchor="end">-0.02</text>
<line x1="30" y1="489.7" x2="31" y2="489.7" class="tk"/>
<text x="28.5" y="492.5" class="t" text-anchor="end">-0.04</text>
<line x1="31" y1="493" x2="31" y2="492" class="tk"/>
<text x="31" y="500.1" class="t" text-anchor="middle">0.4</text>
<line x1="69.05" y1="493" x2="69.05" y2="492" class="tk"/>
<text x="69.05" y="500.1" class="t" text-anchor="middle">0.6</text>
<line x1="107.1" y1="493" x2="107.1" y2="492" class="tk"/>
<text x="107.1" y="500.1" class="t" text-anchor="middle">0.8</text>
<text x="78.3" y="441.3" class="ti" text-anchor="middle">Step Length R (m)</text>
<text x="78.3" y="508.6" class="l" text-anchor="middle">Mean of OptoGait &amp; BTS</text>
<text transform="translate(12.45 468.1) rotate(-90)" class="l" text-anchor="middle">Difference (OptoGait - BTS)</text>
<rect x="35.91" y="518.3" width="84.18" height="26.1" class="lg"/>
<line x1="39.01" y1="523.7" x2="68.51" y2="523.7" class="b"/>
<line x1="39.01" y1="535.2" x2="68.51" y2="535.2" class="g"/>
<text x="70.81" y="526" class="lt">bias = -0.003</text>
<text x="70.81" y="534.7" class="lt">80% LoA =</text>
<text x="70.81" y="541.3" class="lt">(-0.0198 to 0.0164)</text>
<line x1="156.7" y1="468.7" x2="253.3" y2="468.7" class="z"/>
<circle cx="176" cy="472.4" r="1.6" class="dr"/>
<circle cx="179.3" cy="469.3" r="1.6" class="dr"/>
<circle cx="181.1" cy="468.9" r="1.6" class="dr"/>
<circle cx="181.4" cy="472" r="1.6" class="dr"/>
<circle cx="187.6" cy="471.4" r="1.6" class="dr"/>
<circle cx="189.7" cy="468.6" r="1.6" class="dr"/>
<circle cx="192.4" cy="470.3" r="1.6" class="dr"/>
<circle cx="192.9" cy="490.7" r="1.6" class="dr"/>
<circle cx="204" cy="464.4" r="1.6" class="dr"/>
<circle cx="209.7" cy="470.5" r="1.6" class="dr"/>
<circle cx="213.1" cy="465.3" r="1.6" class="dr"/>
<circle cx="212.9" cy="467.1" r="1.6" class="dr"/>
<circle cx="214.7" cy="472.1" r="1.6" class="dr"/>
<circle cx="227.1" cy="457.7" r="1.6" class="dr"/>
<circle cx="173.3" cy="474.3" r="1.6" class="dk"/>
<circle cx="175.4" cy="468.9" r="1.6" class="dk"/>
<circle cx="190.4" cy="463.1" r="1.6" class="dk"/>
<circle cx="200.7" cy="476.4" r="1.6" class="dk"/>
<circle cx="206" cy="472.7" r="1.6" class="dk"/>
<circle cx="206.5" cy="469" r="1.6" class="dk"/>
<circle cx="208.6" cy="468.1" r="1.6" class="dk"/>
<circle cx="211.4" cy="474.6" r="1.6" class="dk"/>
<circle cx="212.4" cy="463.4" r="1.6" class="dk"/>
<circle cx="221.1" cy="473.9" r="1.6" class="dk"/>
<circle cx="231.1" cy="470.3" r="1.6" class="dk"/>
<line x1="156.7" y1="464.26" x2="253.3" y2="464.26" class="g"/>
<line x1="156.7" y1="475.05" x2="253.3" y2="475.05" class="g"/>
<line x1="156.7" y1="470.67" x2="253.3" y2="470.67" class="b"/>
<path d="M156.7 443.2V493H253.3" class="ax"/>
<line x1="156.7" y1="447.3" x2="157.7" y2="447.3" class="tk"/>
<text x="155.2" y="450.1" class="t" text-anchor="end">4</text>
<line x1="156.7" y1="458" x2="157.7" y2="458" class="tk"/>
<text x="155.2" y="460.8" class="t" text-anchor="end">2</text>
<line x1="156.7" y1="468.7" x2="157.7" y2="468.7" class="tk"/>
<text x="155.2" y="471.5" class="t" text-anchor="end">0</text>
<line x1="156.7" y1="479.4" x2="157.7" y2="479.4" class="tk"/>
<text x="155.2" y="482.2" class="t" text-anchor="end">-2</text>
<line x1="156.7" y1="490.1" x2="157.7" y2="490.1" class="tk"/>
<text x="155.2" y="492.9" class="t" text-anchor="end">-4</text>
<line x1="165.3" y1="493" x2="165.3" y2="492" class="tk"/>
<text x="165.3" y="500.1" class="t" text-anchor="middle">100</text>
<line x1="197.6" y1="493" x2="197.6" y2="492" class="tk"/>
<text x="197.6" y="500.1" class="t" text-anchor="middle">120</text>
<line x1="229.9" y1="493" x2="229.9" y2="492" class="tk"/>
<text x="229.9" y="500.1" class="t" text-anchor="middle">140</text>
<text x="205" y="441.3" class="ti" text-anchor="middle">Cadence (steps/min)</text>
<text x="205" y="508.6" class="l" text-anchor="middle">Mean of OptoGait &amp; BTS</text>
<text transform="translate(147.35 468.1) rotate(-90)" class="l" text-anchor="middle">Difference (OptoGait - BTS)</text>
<rect x="162.61" y="518.3" width="84.18" height="26.1" class="lg"/>
<line x1="165.71" y1="523.7" x2="195.21" y2="523.7" class="b"/>
<line x1="165.71" y1="535.2" x2="195.21" y2="535.2" class="g"/>
<text x="197.51" y="526" class="lt">bias = -0.368</text>
<text x="197.51" y="534.7" class="lt">80% LoA =</text>
<text x="197.51" y="541.3" class="lt">(-1.1874 to 0.8298)</text>
<line x1="284.5" y1="468.1" x2="381.1" y2="468.1" class="z"/>
<circle cx="291.9" cy="467.4" r="1.6" class="dr"/>
<circle cx="295.1" cy="445.3" r="1.6" class="dr"/>
<circle cx="296.6" cy="469.6" r="1.6" class="dr"/>
<circle cx="300.9" cy="466.4" r="1.6" class="dr"/>
<circle cx="304.1" cy="468.1" r="1.6" class="dr"/>
<circle cx="309.4" cy="465.7" r="1.6" class="dr"/>
<circle cx="312.3" cy="470.7" r="1.6" class="dr"/>
<circle cx="315.1" cy="475.6" r="1.6" class="dr"/>
<circle cx="320.9" cy="470.7" r="1.6" class="dr"/>
<circle cx="322.3" cy="471" r="1.6" class="dr"/>
<circle cx="331.3" cy="469.3" r="1.6" class="dr"/>
<circle cx="333.7" cy="466.4" r="1.6" class="dr"/>
<circle cx="341.1" cy="467.9" r="1.6" class="dr"/>
<circle cx="298.7" cy="469.3" r="1.6" class="dk"/>
<circle cx="300.1" cy="468.1" r="1.6" class="dk"/>
<circle cx="302.7" cy="475.6" r="1.6" class="dk"/>
<circle cx="306.6" cy="468.1" r="1.6" class="dk"/>
<circle cx="314.7" cy="466.4" r="1.6" class="dk"/>
<circle cx="317.3" cy="467.9" r="1.6" class="dk"/>
<circle cx="319.4" cy="468.9" r="1.6" class="dk"/>
<circle cx="327.3" cy="467.9" r="1.6" class="dk"/>
<circle cx="331.6" cy="468.9" r="1.6" class="dk"/>
<circle cx="333.3" cy="462" r="1.6" class="dk"/>
<circle cx="365.4" cy="468.1" r="1.6" class="dk"/>
<line x1="284.5" y1="466.09" x2="381.1" y2="466.09" class="g"/>
<line x1="284.5" y1="470.94" x2="381.1" y2="470.94" class="g"/>
<line x1="284.5" y1="468.25" x2="381.1" y2="468.25" class="b"/>
<path d="M284.5 443.2V493H381.1" class="ax"/>
<line x1="284.5" y1="452.9" x2="285.5" y2="452.9" class="tk"/>
<text x="283" y="455.7" class="t" text-anchor="end">0.1</text>
<line x1="284.5" y1="468.1" x2="285.5" y2="468.1" class="tk"/>
<text x="283" y="470.9" class="t" text-anchor="end">0</text>
<line x1="284.5" y1="483.3" x2="285.5" y2="483.3" class="tk"/>
<text x="283" y="486.1" class="t" text-anchor="end">-0.1</text>
<line x1="300.7" y1="493" x2="300.7" y2="492" class="tk"/>
<text x="300.7" y="500.1" class="t" text-anchor="middle">1</text>
<line x1="317.85" y1="493" x2="317.85" y2="492" class="tk"/>
<text x="317.85" y="500.1" class="t" text-anchor="middle">1.2</text>
<line x1="335" y1="493" x2="335" y2="492" class="tk"/>
<text x="335" y="500.1" class="t" text-anchor="middle">1.4</text>
<line x1="352.15" y1="493" x2="352.15" y2="492" class="tk"/>
<text x="352.15" y="500.1" class="t" text-anchor="middle">1.6</text>
<line x1="369.3" y1="493" x2="369.3" y2="492" class="tk"/>
<text x="369.3" y="500.1" class="t" text-anchor="middle">1.8</text>
<text x="332.8" y="441.3" class="ti" text-anchor="middle">Velocity (m/s)</text>
<text x="332.8" y="508.6" class="l" text-anchor="middle">Mean of OptoGait &amp; BTS</text>
<text transform="translate(270.23 468.1) rotate(-90)" class="l" text-anchor="middle">Difference (OptoGait - BTS)</text>
<rect x="290.41" y="518.3" width="84.18" height="26.1" class="lg"/>
<line x1="293.51" y1="523.7" x2="323.01" y2="523.7" class="b"/>
<line x1="293.51" y1="535.2" x2="323.01" y2="535.2" class="g"/>
<text x="325.31" y="526" class="lt">bias = -0.001</text>
<text x="325.31" y="534.7" class="lt">80% LoA =</text>
<text x="325.31" y="541.3" class="lt">(-0.0187 to 0.0132)</text>
</svg>
</body></html>
